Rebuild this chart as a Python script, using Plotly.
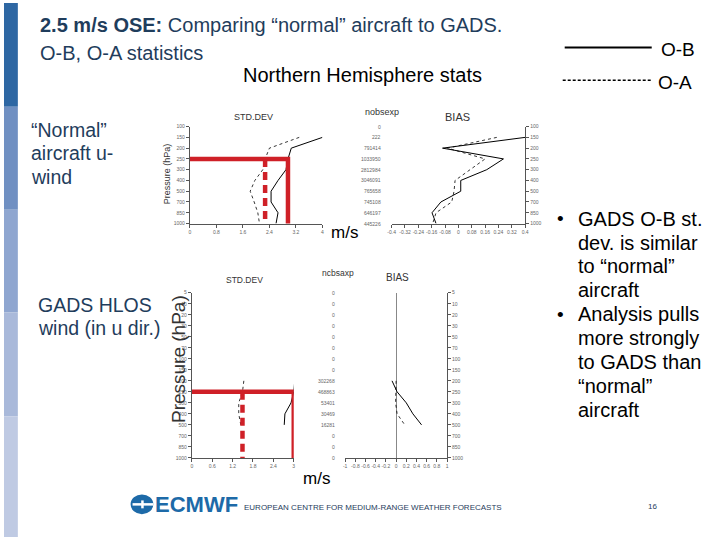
import plotly.graph_objects as go

W, H = 720, 540
def px(x): return x / W
def py(y): return 1 - y / H

# ---------------- data ----------------
levels_top = ["100", "150", "200", "250", "300", "400", "500", "700", "850", "1000"]
std_ob_top = [None, 4.0, 3.06, 2.96, 2.90, 2.66, 2.45, 2.45, 2.66, 2.60]
std_oa_top = [None, 3.3, 2.40, 2.27, 2.20, 1.96, 1.82, 1.94, 2.05, 2.10]
bias_ob_top = [None, 0.40, -0.095, 0.27, 0.17, 0.014, 0.014, -0.105, -0.158, -0.134]
bias_oa_top = [None, 0.23, -0.065, 0.16, 0.07, -0.02, -0.026, -0.04, -0.134, -0.154]
nobs_top = ["0", "222", "791414", "1033950", "2812984", "3046091", "765658", "745108", "646197", "445226"]

levels_bot = ["5", "10", "20", "30", "50", "70", "100", "150", "200", "250", "300", "400", "500", "700", "850", "1000"]
std_ob_bot = [None] * 8 + [3.03, 3.0, 2.92, 2.74, 2.72, None, None, None]
std_oa_bot = [None] * 8 + [1.53, 1.49, 1.38, 1.38, 1.44, None, None, None]
bias_ob_bot = [None] * 8 + [-0.08, 0.02, 0.20, 0.33, 0.50, None, None, None]
bias_oa_bot = [None] * 8 + [0.0, 0.0, -0.01, 0.02, 0.17, None, None, None]
nobs_bot = ["0"] * 8 + ["302268", "468863", "53401", "30469", "16281", "0", "0", "0"]

std_ticks_top = [0, 0.8, 1.6, 2.4, 3.2, 4]
bias_ticks_top = [-0.4, -0.32, -0.24, -0.16, -0.08, 0, 0.08, 0.16, 0.24, 0.32, 0.4]
std_ticks_bot = [0, 0.6, 1.2, 1.8, 2.4, 3]
bias_ticks_bot = [-1, -0.8, -0.6, -0.4, -0.2, 0, 0.2, 0.4, 0.6, 0.8, 1]

bullets = [["GADS O-B st.", "dev. is similar", "to “normal”", "aircraft"],
           ["Analysis pulls", "more strongly", "to GADS than", "“normal”", "aircraft"]]

FONT = "Liberation Sans, Arial, sans-serif"
NAVY = "#1f3d5c"
RED = "#cf2027"
TICKC = "#666666"

fig = go.Figure()

yt = list(range(len(levels_top)))
yb = list(range(len(levels_bot)))
i250t = levels_top.index("250")
i250b = levels_bot.index("250")

def add_line(x, y, xa, ya, dash="solid", color="black", width=1):
    fig.add_trace(go.Scatter(x=x, y=y, xaxis=xa, yaxis=ya, mode="lines",
                             line=dict(color=color, width=width, dash=dash),
                             showlegend=False, hoverinfo="skip", connectgaps=False))

# top panels
add_line(std_ob_top, yt, "x", "y")
add_line(std_oa_top, yt, "x", "y", dash="dot", width=0.8)
add_line(bias_ob_top, yt, "x2", "y2")
add_line(bias_oa_top, yt, "x2", "y2", dash="dot", width=0.8)
# bottom panels
add_line(std_ob_bot, yb, "x3", "y3")
add_line(std_oa_bot, yb, "x3", "y3", dash="dot", width=0.8)
add_line(bias_ob_bot, yb, "x4", "y4")
add_line(bias_oa_bot, yb, "x4", "y4", dash="dot", width=0.8)

# red highlight lines at 250 hPa
for stdob, stdoa, i250, n, xa, ya in [(std_ob_top, std_oa_top, i250t, len(levels_top), "x", "y"),
                                      (std_ob_bot, std_oa_bot, i250b, len(levels_bot), "x3", "y3")]:
    vob = stdob[i250]
    voa = stdoa[i250]
    add_line([0, vob, vob], [i250, i250, n - 1 + 0.15], xa, ya, color=RED, width=4.5)
    add_line([voa, voa], [i250, n - 1 + 0.15], xa, ya, color=RED, width=4.5, dash="8px,5px")

tickfont = dict(family=FONT, size=5, color=TICKC)
common_x = dict(showgrid=False, zeroline=False, showline=True, linecolor="#555", linewidth=1,
                ticks="outside", ticklen=3, tickcolor="#555", tickfont=tickfont, fixedrange=True,
                tickangle=0)
common_y = dict(showgrid=False, zeroline=False, showline=True, linecolor="#555", linewidth=1,
                ticks="outside", ticklen=3, tickcolor="#555", tickfont=tickfont, fixedrange=True)

ytop_dom = [py(223), py(125)]
ybot_dom = [py(460), py(293)]

fig.update_layout(
    width=W, height=H, margin=dict(l=0, r=0, t=0, b=0),
    paper_bgcolor="white", plot_bgcolor="rgba(0,0,0,0)",
    showlegend=False,
    xaxis=dict(domain=[px(188), px(322)], range=[0, 4], tickvals=std_ticks_top,
               ticktext=[f"{v:g}" for v in std_ticks_top], anchor="y", **common_x),
    yaxis=dict(domain=ytop_dom, range=[len(levels_top) - 1, 0], tickvals=yt, ticktext=levels_top,
               anchor="x", **common_y),
    xaxis2=dict(domain=[px(392), px(527)], range=[-0.4, 0.4], tickvals=bias_ticks_top,
                ticktext=[f"{v:g}" for v in bias_ticks_top], anchor="y2", **common_x),
    yaxis2=dict(domain=ytop_dom, range=[len(levels_top) - 1, 0], tickvals=yt, ticktext=levels_top,
                anchor="x2", side="right", **common_y),
    xaxis3=dict(domain=[px(190), px(293)], range=[0, 3], tickvals=std_ticks_bot,
                ticktext=[f"{v:g}" for v in std_ticks_bot], anchor="y3", **common_x),
    yaxis3=dict(domain=ybot_dom, range=[len(levels_bot) - 1, 0], tickvals=yb, ticktext=levels_bot,
                anchor="x3", **common_y),
    xaxis4=dict(domain=[px(345), px(448)], range=[-1, 1], tickvals=bias_ticks_bot,
                ticktext=[f"{v:g}" for v in bias_ticks_bot], anchor="y4", **common_x),
    yaxis4=dict(domain=ybot_dom, range=[len(levels_bot) - 1, 0], tickvals=yb, ticktext=levels_bot,
                anchor="x4", side="right", **common_y),
)
fig.update_layout(xaxis4=dict(zeroline=True, zerolinecolor="#888", zerolinewidth=1))

ann = []
def text(x, y, s, size, color="black", xanchor="left", family=FONT, textangle=0):
    ann.append(dict(x=px(x), y=py(y), xref="paper", yref="paper",
                    text=s, showarrow=False, borderpad=0,
                    font=dict(family=family, size=size, color=color),
                    xanchor=xanchor, yanchor="middle", textangle=textangle))

# title
text(35, 22, "<b>2.5 m/s OSE:</b> Comparing “normal” aircraft to GADS.", 20, NAVY)
text(35, 51, "O-B, O-A statistics", 20, NAVY)
text(241, 73, "Northern Hemisphere stats", 20)
text(663, 47, "O-B", 19)
text(660, 80, "O-A", 19)

for i, s in enumerate(["“Normal”", "aircraft u-", "wind"]):
    text(26, 128 + 24 * i, s, 19.5, NAVY)
for i, s in enumerate(["GADS HLOS", "wind (in u dir.)"]):
    text(33, 305 + 24 * i, s, 19.5, NAVY)

line_y = 218
for blk in bullets:
    text(558, line_y, "•", 19)
    for s in blk:
        text(579, line_y, s, 20)
        line_y += 24.2

text(344, 232, "m/s", 17, xanchor="center")
text(316, 481, "m/s", 17, xanchor="center")

# panel headers
text(252, 115, "STD.DEV", 9, "#333", xanchor="center")
text(382, 110, "nobsexp", 9, "#333", xanchor="center")
text(459, 115, "BIAS", 11, "#333", xanchor="center")
text(243, 280, "STD.DEV", 8.5, "#333", xanchor="center")
text(338, 273, "ncbsaxp", 8.5, "#333", xanchor="center")
text(398, 278, "BIAS", 10, "#333", xanchor="center")

text(165, 173, "Pressure (hPa)", 9, "#333", xanchor="center", textangle=-90)
text(176, 360, "Pressure (hPa)", 19, "#333", xanchor="center", textangle=-90)

# nobs columns
for i, s in enumerate(nobs_top):
    ann.append(dict(x=px(383), y=i, xref="paper", yref="y", text=s, showarrow=False,
                    xanchor="right", yanchor="middle", font=dict(family=FONT, size=5, color=TICKC)))
for i, s in enumerate(nobs_bot):
    ann.append(dict(x=px(337), y=i, xref="paper", yref="y3", text=s, showarrow=False,
                    xanchor="right", yanchor="middle", font=dict(family=FONT, size=5, color=TICKC)))

# footer
text(152, 507, "<b>ECMWF</b>", 22, "#1d6aa8")
text(242, 510, "EUROPEAN CENTRE FOR MEDIUM-RANGE WEATHER FORECASTS", 8, NAVY)
text(656, 509, "16", 8, NAVY, xanchor="center")

fig.update_layout(annotations=ann)

shapes = []
# left strip
strip = [(0, 105, "#2e67a3"), (105, 209, "#7090c2"), (209, 313, "#8fa6d0"), (313, 418, "#a9b9da"), (418, 540, "#bfcae3")]
for y0, y1, c in strip:
    shapes.append(dict(type="rect", xref="paper", yref="paper", x0=0, x1=px(14), y0=py(y1), y1=py(y0),
                       fillcolor=c, line=dict(width=0), layer="below"))
# legend lines
shapes.append(dict(type="line", xref="paper", yref="paper", x0=px(567), x1=px(655), y0=py(45), y1=py(45),
                   line=dict(color="black", width=2)))
shapes.append(dict(type="line", xref="paper", yref="paper", x0=px(565), x1=px(655), y0=py(78), y1=py(78),
                   line=dict(color="black", width=1.5, dash="3px,2px")))
# logo symbol
shapes.append(dict(type="circle", xref="paper", yref="paper", x0=px(128), x1=px(151), y0=py(517), y1=py(497),
                   fillcolor="#1d6aa8", line=dict(width=0)))
shapes.append(dict(type="line", xref="paper", yref="paper", x0=px(130), x1=px(151), y0=py(507), y1=py(507),
                   line=dict(color="white", width=2.5)))
shapes.append(dict(type="line", xref="paper", yref="paper", x0=px(140), x1=px(140), y0=py(503), y1=py(511),
                   line=dict(color="white", width=2.5)))
fig.update_layout(shapes=shapes)

fig.write_html("out.html", config={"displayModeBar": False},
               post_script="document.body.style.margin='0';document.body.style.padding='0';document.body.style.overflow='hidden';")
